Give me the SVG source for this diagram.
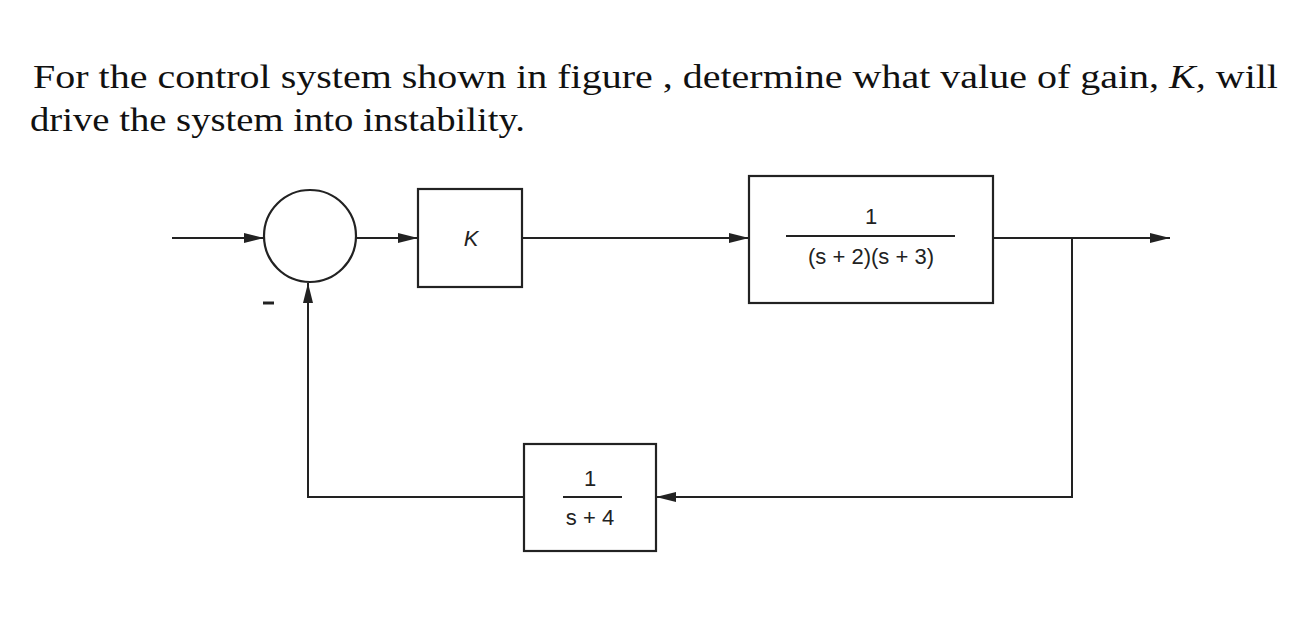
<svg xmlns="http://www.w3.org/2000/svg" width="1312" height="638" viewBox="0 0 1312 638">
<style>
.q{font-family:"Liberation Serif",serif;font-size:34px;fill:#111}
.b{fill:none;stroke:#222;stroke-width:2.2}
.l{fill:none;stroke:#222;stroke-width:2}
.m{font-family:"Liberation Sans",Arial,sans-serif;font-size:22px;fill:#222}
</style>
<defs><marker id="a2" viewBox="0 0 20 12" refX="20" refY="6" markerWidth="20" markerHeight="12" markerUnits="userSpaceOnUse" orient="auto"><path d="M0,1L20,6L0,11Z" fill="#222"/></marker></defs>
<rect width="1312" height="638" fill="#fff"/>
<text class="q" x="33" y="88" textLength="1245" lengthAdjust="spacingAndGlyphs">For the control system shown in figure , determine what value of gain, <tspan font-style="italic">K,</tspan> will</text>
<text class="q" x="30" y="131" textLength="495" lengthAdjust="spacingAndGlyphs">drive the system into instability.</text>
<g id="connectors">
<path class="l" d="M172,238H264" marker-end="url(#a2)"/>
<path class="l" d="M356,238H418" marker-end="url(#a2)"/>
<path class="l" d="M522,238H749" marker-end="url(#a2)"/>
<path class="l" d="M993,238H1170" marker-end="url(#a2)"/>
<path class="l" d="M1072,238V497H656" marker-end="url(#a2)"/>
<path class="l" d="M524,497H308V283" marker-end="url(#a2)"/>
<path d="M263,303H274" stroke="#222" stroke-width="3"/>
</g>
<g id="sum"><circle class="b" cx="310" cy="236" r="46"/></g>
<g id="gainK"><rect class="b" x="418" y="189" width="104" height="98"/><text class="m" x="471" y="246" text-anchor="middle" font-style="italic">K</text></g>
<g id="plant"><rect class="b" x="749" y="176" width="244" height="127"/>
<text class="m" x="871" y="224" text-anchor="middle">1</text><path class="l" d="M786,236H955"/>
<text class="m" x="871" y="264" text-anchor="middle">(s + 2)(s + 3)</text></g>
<g id="feedback"><rect class="b" x="524" y="444" width="132" height="107"/>
<text class="m" x="590" y="486" text-anchor="middle">1</text><path class="l" d="M563,497H622"/>
<text class="m" x="590" y="525" text-anchor="middle">s + 4</text></g>
</svg>
